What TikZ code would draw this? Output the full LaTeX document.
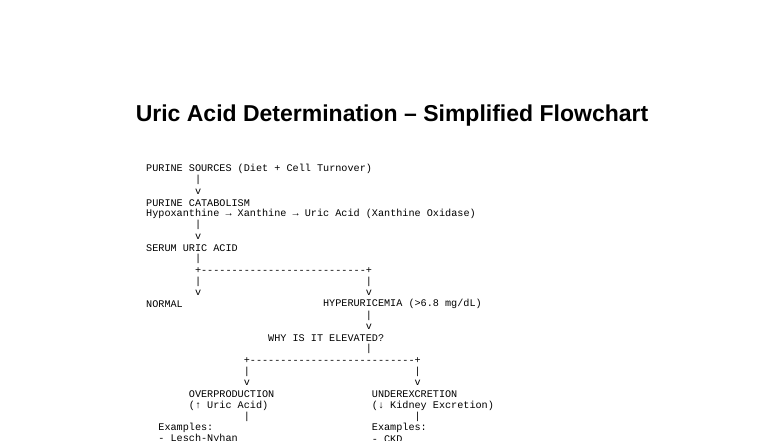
\documentclass[tikz,border=0pt]{standalone}
\usepackage{fontspec}
\setsansfont{Liberation Sans}
\setmonofont{Liberation Mono}
\usepackage{tikz}

% one character cell of the text art
\newcommand{\cw}{6.1pt}
\newcommand{\lh}{11.26pt}
\newcommand{\art}[4]{\node[artline] (#1) at ({146pt+#2*\cw},{-169pt-#3*\lh}) {#4};}

\begin{document}
\begin{tikzpicture}[x=1pt,y=1pt]
\tikzset{artline/.style={anchor=west,inner sep=0pt,font=\ttfamily\fontsize{10.17pt}{11pt}\selectfont}}
\useasboundingbox (0,0) rectangle (784,-441);
\node[font=\sffamily\bfseries\fontsize{23pt}{26pt}\selectfont] (title) at (392,-116) {Uric Acid Determination – Simplified Flowchart};
% top chain
\art{src}{0}{0}{PURINE SOURCES (Diet + Cell Turnover)}
\art{b1}{8}{1}{|}
\art{v1}{8}{2}{v}
\art{cat}{0}{3}{PURINE CATABOLISM}
\art{path}{0}{4}{Hypoxanthine → Xanthine → Uric Acid (Xanthine Oxidase)}
\art{b2}{8}{5}{|}
\art{v2}{8}{6}{v}
\art{serum}{0}{7}{SERUM URIC ACID}
\art{b3}{8}{8}{|}
\art{split1}{8}{9}{+---------------------------+}
\foreach \c/\n in {8/l,36/r}{
  \art{b4\n}{\c}{10}{|}
  \art{v4\n}{\c}{11}{v}
}
\art{normal}{0}{12}{NORMAL}
\art{hyper}{29}{12}{HYPERURICEMIA (>6.8 mg/dL)}
\art{b5}{36}{13}{|}
\art{v5}{36}{14}{v}
\art{why}{20}{15}{WHY IS IT ELEVATED?}
\art{b6}{36}{16}{|}
\art{split2}{16}{17}{+---------------------------+}
\foreach \c/\n in {16/l,44/r}{
  \art{b7\n}{\c}{18}{|}
  \art{v7\n}{\c}{19}{v}
  \art{b8\n}{\c}{22}{|}
}
% two branches
\art{over}{7}{20}{OVERPRODUCTION}
\art{overa}{7}{21}{(↑ Uric Acid)}
\art{exl}{2}{23}{Examples:}
\art{exla}{2}{24}{- Lesch-Nyhan}
\art{under}{37}{20}{UNDEREXCRETION}
\art{undera}{37}{21}{(↓ Kidney Excretion)}
\art{exr}{37}{23}{Examples:}
\art{exra}{37}{24}{- CKD}
\end{tikzpicture}
\end{document}
